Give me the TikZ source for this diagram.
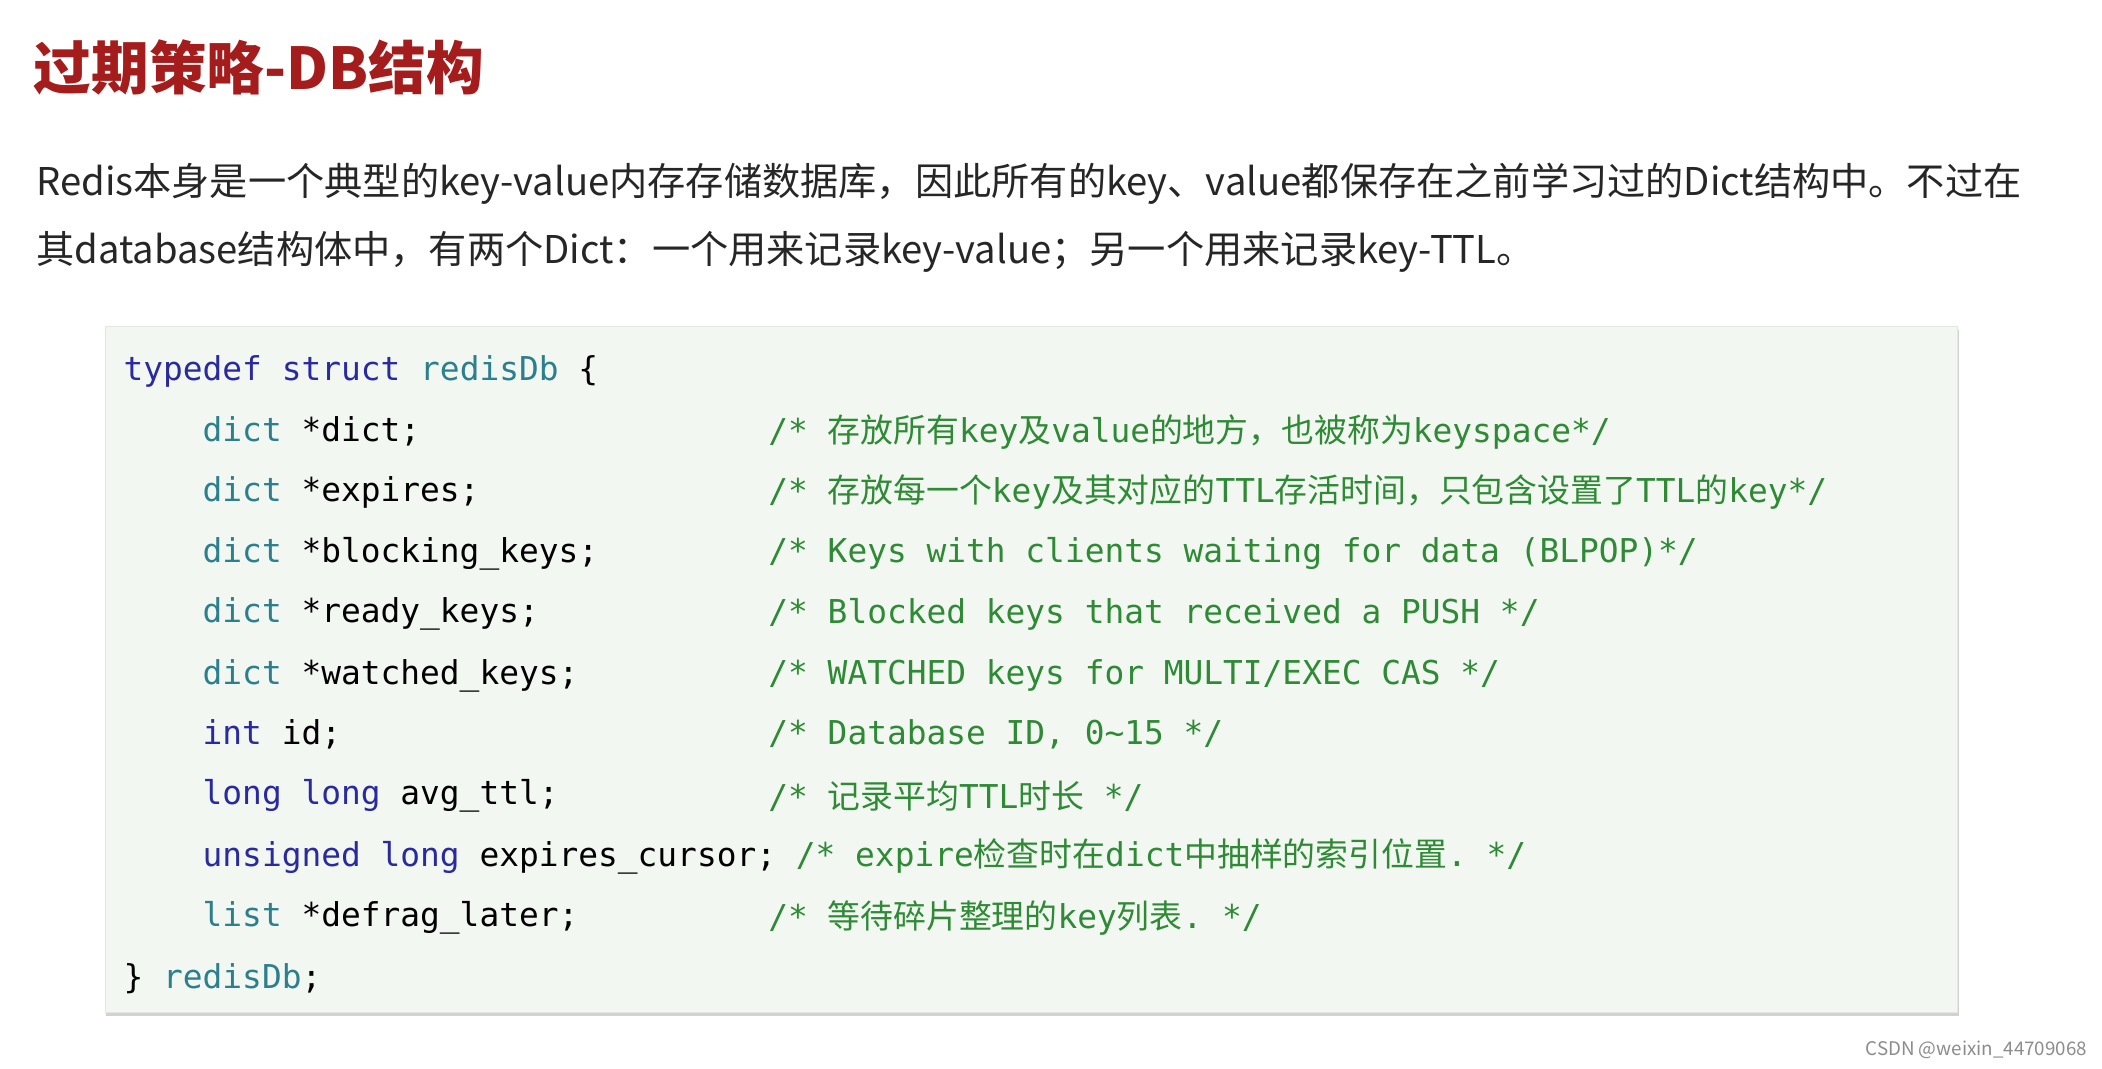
\documentclass[tikz,border=0pt]{standalone}
\usepackage{fontspec}
\setmainfont{Noto Sans CJK SC}
\setmonofont{DejaVu Sans Mono}
\newfontfamily\cjk{Noto Sans CJK SC}
\usetikzlibrary{shadows}
\definecolor{ttl}{HTML}{A51C1C}
\definecolor{kw}{HTML}{2A2AA0}
\definecolor{ty}{HTML}{2C7F8C}
\definecolor{cm}{HTML}{2F8A36}
\definecolor{bx}{HTML}{F3F7F2}
\newcommand\kw[1]{\textcolor{kw}{#1}}
\newcommand\ty[1]{\textcolor{ty}{#1}}
\newcommand\cj[1]{{\cjk #1}}
\tikzset{code/.style={anchor=west,inner sep=0pt,font=\ttfamily\fontsize{24.5}{28}\selectfont,text=black},
 cmt/.style={code,text=cm},
 para/.style={anchor=west,inner sep=0pt,font=\fontsize{28.5}{32}\selectfont,text=black!85}}
\begin{document}
\begin{tikzpicture}[x=1pt,y=-1pt]
\path[fill=white] (0,0) rectangle (1568,797);
\useasboundingbox (0,0) rectangle (1568,797);
\node[anchor=west,inner sep=0pt,text=ttl,font=\bfseries\fontsize{43}{46}\selectfont] (title) at (25,50) {过期策略-DB结构};
\node[para] (p1) at (27,137) {Redis本身是一个典型的key-value内存存储数据库，因此所有的key、value都保存在之前学习过的Dict结构中。不过在};
\node[para] (p2) at (27,188) {其database结构体中，有两个Dict：一个用来记录key-value；另一个用来记录key-TTL。};
\node[draw=black!10,fill=bx,drop shadow={shadow xshift=1pt,shadow yshift=-3pt,opacity=0.35},minimum width=1382pt,minimum height=512pt,anchor=north west,inner sep=0pt] (box) at (78,243) {};
\node[code] (l0) at (92,277) {\kw{typedef struct} \ty{redisDb} \{};
\node[code] (l1) at (151,322) {\ty{dict} *dict;};
\node[code] (l2) at (151,367) {\ty{dict} *expires;};
\node[code] (l3) at (151,413) {\ty{dict} *blocking\_keys;};
\node[code] (l4) at (151,458) {\ty{dict} *ready\_keys;};
\node[code] (l5) at (151,504) {\ty{dict} *watched\_keys;};
\node[code] (l6) at (151,548) {\kw{int} id;};
\node[code] (l7) at (151,594) {\kw{long long} avg\_ttl;};
\node[code] (l8) at (151,639) {\kw{unsigned long} expires\_cursor; \textcolor{cm}{/* expire\cj{检查时在}dict\cj{中抽样的索引位置}. */}};
\node[code] (l9) at (151,685) {\ty{list} *defrag\_later;};
\node[code] (l10) at (92,730) {\} \ty{redisDb};};
\node[cmt] (c1) at (573,322) {/* \cj{存放所有}key\cj{及}value\cj{的地方，也被称为}keyspace*/};
\node[cmt] (c2) at (573,367) {/* \cj{存放每一个}key\cj{及其对应的}TTL\cj{存活时间，只包含设置了}TTL\cj{的}key*/};
\node[cmt] (c3) at (573,413) {/* Keys with clients waiting for data (BLPOP)*/};
\node[cmt] (c4) at (573,458) {/* Blocked keys that received a PUSH */};
\node[cmt] (c5) at (573,504) {/* WATCHED keys for MULTI/EXEC CAS */};
\node[cmt] (c6) at (573,548) {/* Database ID, 0\textasciitilde15 */};
\node[cmt] (c7) at (573,594) {/* \cj{记录平均}TTL\cj{时长} */};
\node[cmt] (c9) at (573,685) {/* \cj{等待碎片整理的}key\cj{列表}. */};
\node[anchor=east,inner sep=0pt,text=black!45,font=\fontsize{14}{16}\selectfont] (wm) at (1557,783) {CSDN @weixin\_44709068};
\end{tikzpicture}
\end{document}
